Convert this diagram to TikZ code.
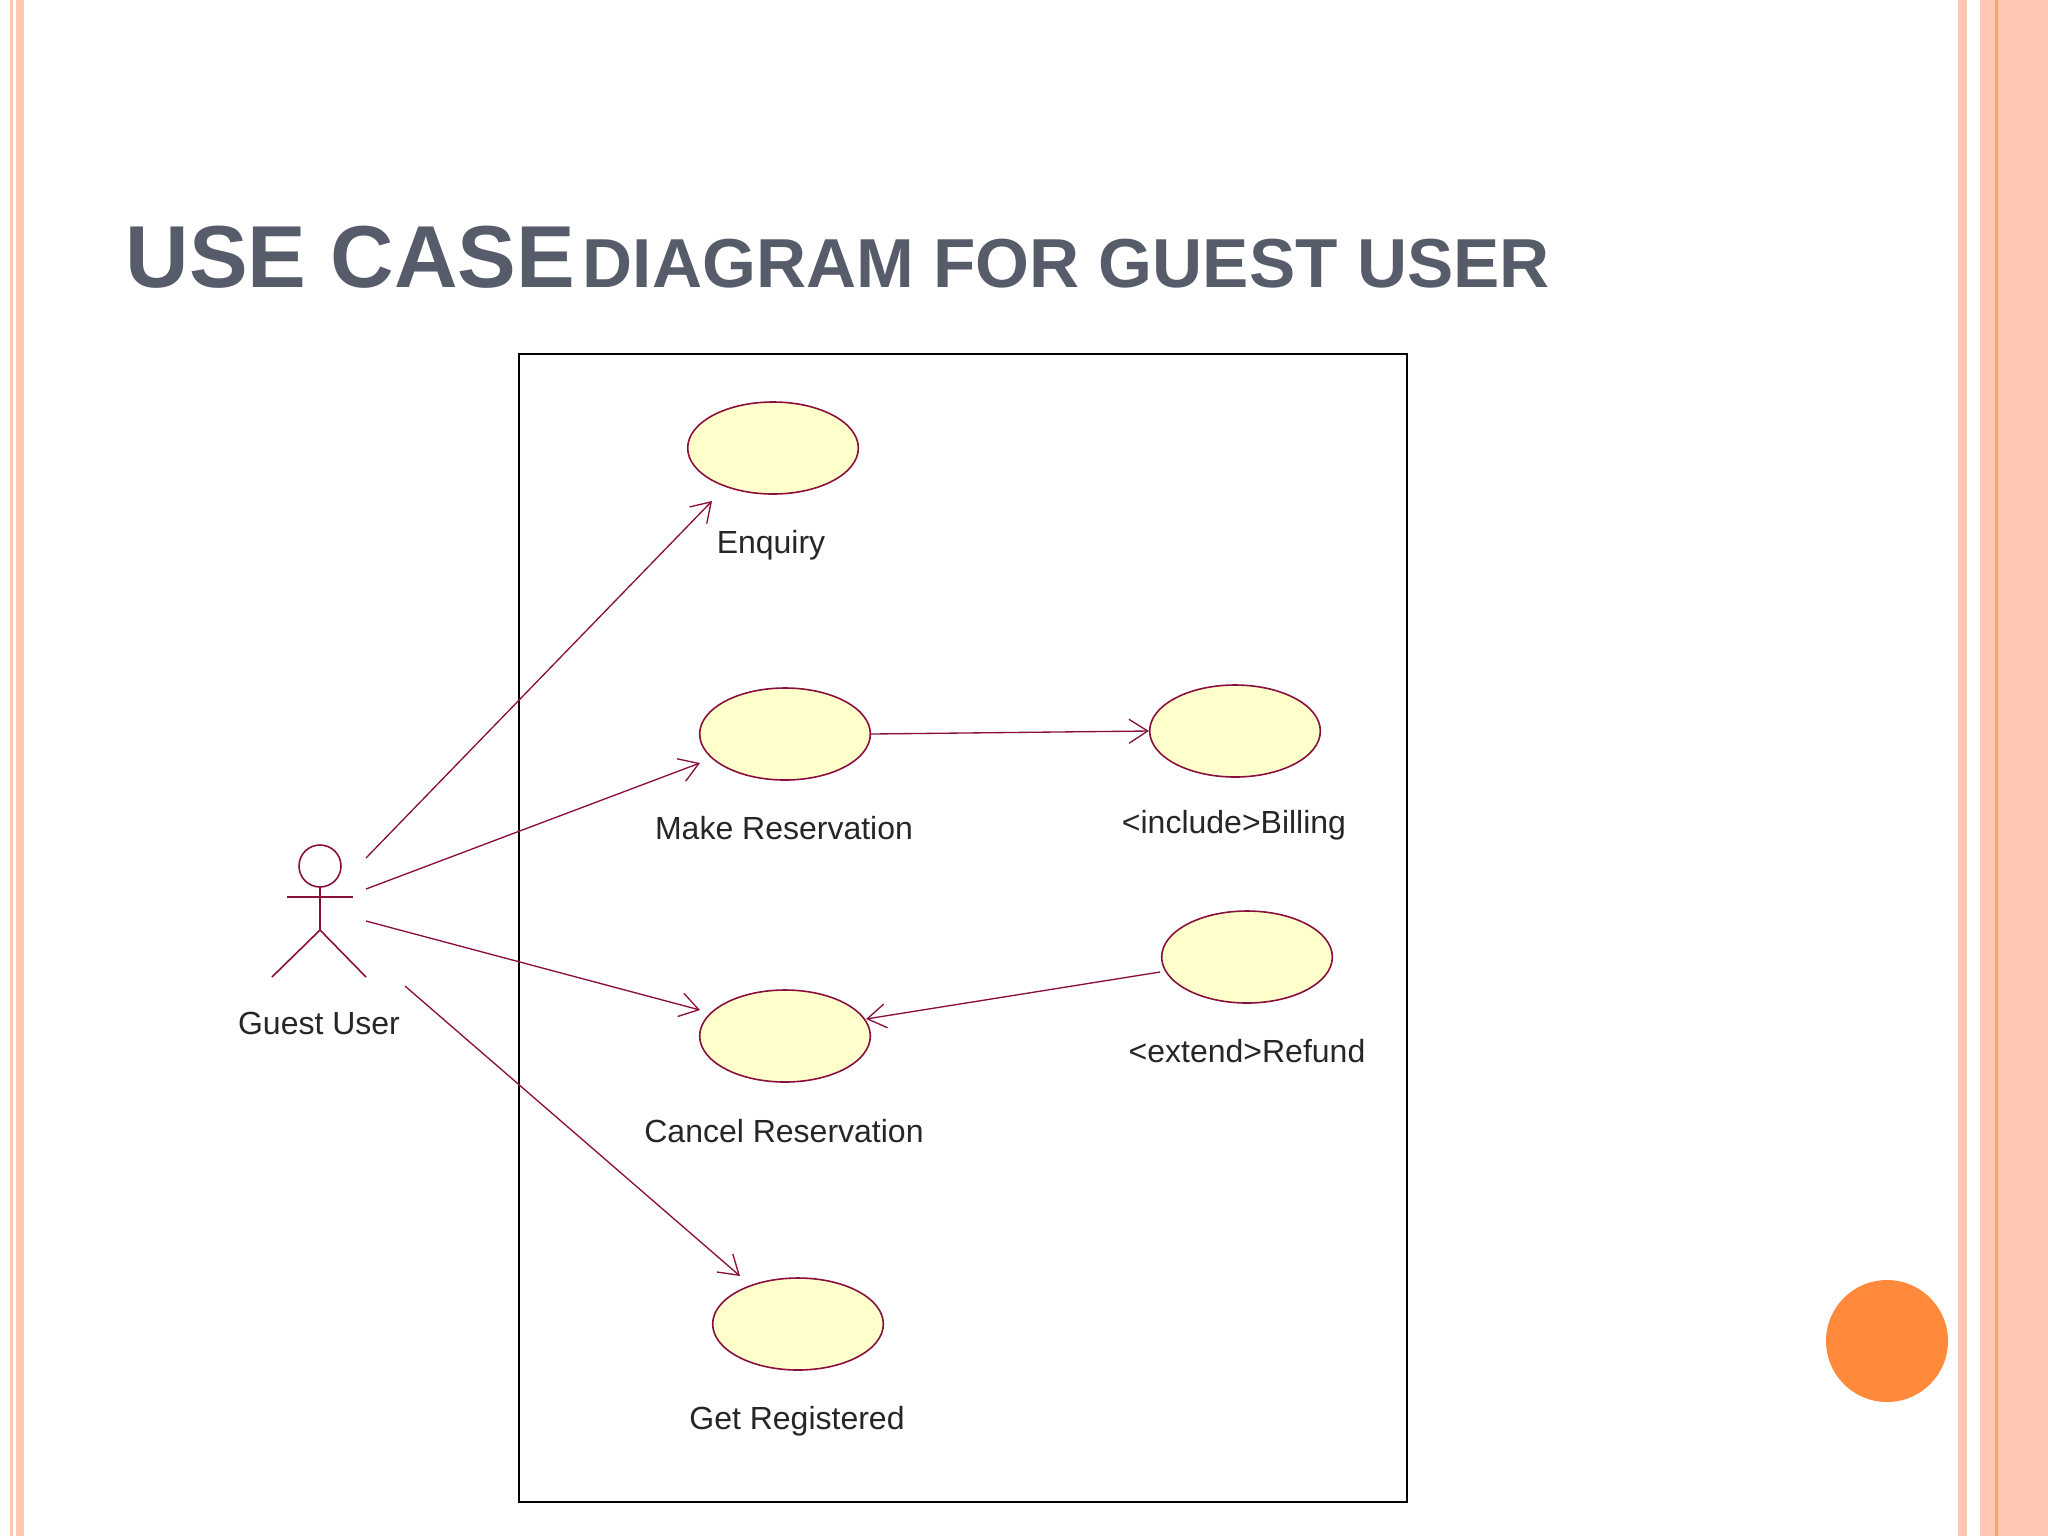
\documentclass[tikz,border=0pt]{standalone}
\usepackage{fontspec}
\setmainfont{Liberation Sans}
\usetikzlibrary{shapes.geometric,arrows.meta}
\definecolor{uml}{HTML}{8A0F3C}
\definecolor{ucfill}{HTML}{FFFFCC}
\definecolor{ttl}{HTML}{575C6B}
\definecolor{peach}{HTML}{FDC7B2}
\definecolor{orng}{HTML}{FF8A3C}
\tikzset{
  uc/.style={ellipse,draw=uml,fill=ucfill,line width=0.6pt,minimum width=64pt,minimum height=34.5pt,inner sep=0},
  lbl/.style={font=\fontsize{12}{14}\selectfont,text=black!85,inner sep=0},
  assoc/.style={draw=uml,line width=0.5pt,-{Straight Barb[length=7pt,width=9pt]}}
}
\begin{document}
\begin{tikzpicture}[x=0.375pt,y=-0.375pt]
\useasboundingbox (0,0) rectangle (2048,1536);
% slide borders
\fill[peach] (10,0) rectangle (13,1536);
\fill[peach] (16,0) rectangle (24,1536);
\fill[peach] (1958,0) rectangle (1967,1536);
\fill[peach] (1980,0) rectangle (2048,1536);
\fill[orng!80] (1995,0) rectangle (1998,1536);
\fill[orng] (1887,1341) circle (61);
% title
\node[anchor=base west,inner sep=0,text=ttl,font=\bfseries] (title) at (125,287)
  {{\fontsize{33}{35}\selectfont USE CASE}\ {\fontsize{26}{28}\selectfont DIAGRAM FOR GUEST USER}};
% system boundary
\draw[line width=0.7pt] (519,354) rectangle (1407,1502);
% use cases
\node[uc] (enq) at (773,448) {};
\node[uc] (make) at (785,734) {};
\node[uc] (bill) at (1235,731) {};
\node[uc] (ref) at (1247,957) {};
\node[uc] (canc) at (785,1036) {};
\node[uc] (reg) at (798,1324) {};
\node[lbl] (tenq) at (771,545) {Enquiry};
\node[lbl] (tmake) at (784,828) {Make Reservation};
\node[lbl] (tbill) at (1234,825) {<include>Billing};
\node[lbl] (tref) at (1247,1051) {<extend>Refund};
\node[lbl] (tcanc) at (784,1131) {Cancel Reservation};
\node[lbl] (treg) at (797,1421) {Get Registered};
% actor
\begin{scope}[draw=uml,line width=0.6pt]
\draw (320,866) circle (21);
\draw (320,887) -- (320,930);
\draw (287,897) -- (353,897);
\draw (272,977) -- (320,930) -- (366,977);
\end{scope}
\node[lbl] (tact) at (319,1023) {Guest User};
% connector ends
\coordinate (a1) at (366,858);
\coordinate (a2) at (366,889);
\coordinate (a3) at (366,921);
\coordinate (a4) at (405,986);
\coordinate (e1) at (712,501);
\coordinate (e2) at (700,763);
\coordinate (e3) at (700,1010);
\coordinate (e4) at (740,1276);
\coordinate (r1) at (1160,972);
\coordinate (r2) at (866,1019);
\draw[assoc] (a1) -- (e1);
\draw[assoc] (a2) -- (e2);
\draw[assoc] (a3) -- (e3);
\draw[assoc] (a4) -- (e4);
\draw[assoc] (make.east) -- (bill.west);
\draw[assoc] (r1) -- (r2);
\end{tikzpicture}
\end{document}
